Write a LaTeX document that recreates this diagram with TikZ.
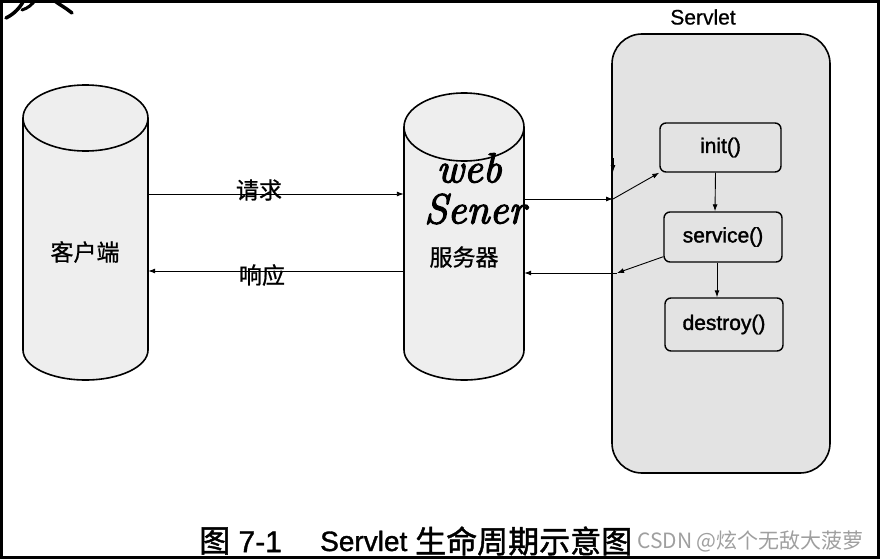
\documentclass[tikz,border=0pt]{standalone}
\usepackage{fontspec}
\setmainfont{Liberation Sans}[FakeBold=0.6]
\newfontfamily\cjk{Noto Sans CJK SC}[FakeBold=0.8]
\newfontfamily\cjkcap{Noto Sans CJK SC}[FakeBold=1.4]
\newfontfamily\capsans{Liberation Sans}[FakeBold=1.2]
\newfontfamily\methodfont{Liberation Sans}[FakeBold=1.6]
\newfontfamily\handfont{Latin Modern Roman}[FakeBold=3]
\newfontfamily\wmfont{Noto Sans CJK SC}
\usetikzlibrary{arrows.meta,calc}
\begin{document}
\begin{tikzpicture}[x=1pt,y=1pt,yscale=-1,
  link/.style={line width=0.9pt,-{Latex[length=7pt,width=5pt]}},
  cylfill/.style={fill=gray!13},
  cylline/.style={draw=black,line width=1.6pt},
  body/.style={minimum width=#1,minimum height=232pt,inner sep=0pt,draw=none},
  method/.style={draw=black,line width=1.4pt,fill=gray!22,rounded corners=6pt,inner sep=0pt,font=\methodfont\fontsize{21}{24}\selectfont},
  cn/.style={font=\cjk\fontsize{23}{26}\selectfont,inner sep=0pt},
  captext/.style={anchor=west,inner sep=0pt},
  hand/.style={font=\handfont\itshape\fontsize{42}{42}\selectfont,inner sep=0pt}]
\useasboundingbox (0,0) rectangle (880,559);
\begin{scope}
\clip (0,0) rectangle (880,559);
% scan artifact (top left)
\draw[line width=3.5pt,line cap=round] (6,18) .. controls (14,14) and (20,8) .. (24,0);
\draw[line width=3pt,line cap=round] (22,10) .. controls (28,8) and (32,5) .. (36,-1);
\draw[line width=3.5pt,line cap=round] (52,-1) .. controls (60,5) and (66,8) .. (72,13);
\end{scope}
% frame
\draw[line width=3pt] (1.5,1.5) rectangle (878.5,557.5);

% client cylinder
\path[cylfill,cylline] (23,118) -- (23,350) arc[start angle=180,end angle=0,x radius=62.5,y radius=30]
  -- (148,118) arc[start angle=0,end angle=-180,x radius=62.5,y radius=33] -- cycle;
\draw[cylline] (23,118) arc[start angle=180,end angle=0,x radius=62.5,y radius=33];
\node[body=125pt] (client) at (85.5,234) {};
\node[cn] at (85,252) {客户端};

% server cylinder
\path[cylfill,cylline] (404,127) -- (404,350) arc[start angle=180,end angle=0,x radius=60,y radius=30]
  -- (524,127) arc[start angle=0,end angle=-180,x radius=60,y radius=34] -- cycle;
\draw[cylline] (404,127) arc[start angle=180,end angle=0,x radius=60,y radius=34];
\node[body=120pt] (server) at (464,238) {};
\node[hand] at (469,168) {web};
\node[hand] at (475,209) {Sener};
\node[cn] at (464,257) {服务器};

% servlet container
\node[draw=black,line width=1.6pt,fill=gray!22,rounded corners=30pt,minimum width=218pt,minimum height=439pt,inner sep=0pt] (servlet) at (721,253.5) {};
\node[font=\fontsize{21}{24}\selectfont,inner sep=0pt] at (703,17) {Servlet};

\node[method,minimum width=121pt,minimum height=49pt] (init) at (720.5,147.5) {init()};
\node[method,minimum width=118pt,minimum height=50pt] (service) at (723,237) {service()};
\node[method,minimum width=118pt,minimum height=53pt] (destroy) at (724,324.5) {destroy()};

% client <-> server
\coordinate (req) at (0,194);
\coordinate (res) at (0,271);
\draw[link] (client.east |- req) -- (server.west |- req);
\draw[link] (server.west |- res) -- (client.east |- res);
\node[cn] at (259,190) {请求};
\node[cn] at (262,275) {响应};

% server <-> servlet
\coordinate (j1) at (613,199);
\coordinate (j2) at (617,273);
\coordinate (b0) at (613,158);
\coordinate (b1) at (613,172);
\draw[link] (server.east |- j1) -- (j1);
\draw[link] (j1) -- (init.south west);
\draw[link] (b0) -- (b1);
\draw[link] ($(service.south west)+(0,-6)$) -- (j2);
\draw[link] (j2) -- (server.east |- j2);

% lifecycle
\draw[link] ($(init.south)+(-5,0)$) -- ($(service.north)+(-8,0)$);
\draw[link] ($(service.south)+(-6,0)$) -- ($(destroy.north)+(-7,0)$);

% caption
\node[captext,font=\capsans\fontsize{30}{34}\selectfont] at (199,541) {{\cjkcap\fontsize{31}{34}\selectfont 图} 7-1};
\node[captext,font=\capsans\fontsize{28}{34}\selectfont] at (320,541) {Servlet};
\node[captext,font=\cjkcap\fontsize{31}{34}\selectfont] at (415,541) {生命周期示意图};
\node[captext,text=gray!75,font=\wmfont\fontsize{21}{24}\selectfont] at (637,541) {CSDN @炫个无敌大菠萝};
\end{tikzpicture}
\end{document}
